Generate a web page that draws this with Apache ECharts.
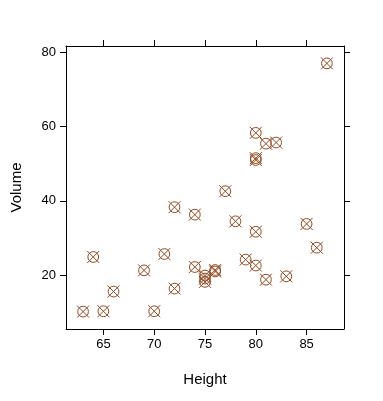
<!DOCTYPE html>
<html><head><meta charset="utf-8">
<script src="https://cdn.jsdelivr.net/npm/echarts@6/dist/echarts.min.js"></script>
<style>html,body{margin:0;padding:0;background:#fff}#c{width:383px;height:401px}</style>
</head><body><div id="c"></div>
<script>
const height = [70,65,63,72,81,83,66,75,80,75,79,76,76,69,75,74,85,86,71,64,78,80,74,72,77,81,82,80,80,80,87];
const volume = [10.3,10.3,10.2,16.4,18.8,19.7,15.6,18.2,22.6,19.9,24.2,21.0,21.4,21.3,19.1,22.2,33.8,27.4,25.7,24.9,34.5,31.7,36.3,38.3,42.6,55.4,55.7,58.3,51.5,51.0,77.0];
const xTicks = [65,70,75,80,85];
const yTicks = [20,40,60,80];

const xMin = 61.32, xMax = 88.68, yMin = 5.524, yMax = 81.676;
const font = 'Liberation Sans, Arial, sans-serif';
const marker = 'path://M0.8,5 A4.2,4.2 0 1,1 9.2,5 A4.2,4.2 0 1,1 0.8,5 Z M0.3,0.3 L9.7,9.7 M9.7,0.3 L0.3,9.7';

function axisCommon(min, max, ticks, pos, labels) {
  return {
    type: 'value', position: pos, min: min, max: max,
    splitLine: {show: false},
    axisLine: {show: true, onZero: false, lineStyle: {color: '#000', width: 1}},
    axisTick: {show: true, inside: false, length: 6, lineStyle: {color: '#000'}, customValues: ticks},
    axisLabel: {show: labels, color: '#000', fontFamily: font, fontSize: 13, customValues: ticks}
  };
}

const xb = axisCommon(xMin, xMax, xTicks, 'bottom', true);
xb.name = 'Height'; xb.nameLocation = 'middle'; xb.nameGap = 43;
xb.nameTextStyle = {color: '#000', fontFamily: font, fontSize: 15};
xb.axisLabel.margin = 9;
const xt = axisCommon(xMin, xMax, xTicks, 'top', false);
const yl = axisCommon(yMin, yMax, yTicks, 'left', true);
yl.name = 'Volume'; yl.nameLocation = 'middle'; yl.nameGap = 42;
yl.nameTextStyle = {color: '#000', fontFamily: font, fontSize: 15};
yl.axisLabel.margin = 10;
const yr = axisCommon(yMin, yMax, yTicks, 'right', false);

const chart = echarts.init(document.getElementById('c'), null, {renderer: 'canvas'});
chart.setOption({
  animation: false,
  backgroundColor: '#fff',
  grid: {left: 66, top: 46, right: 39, bottom: 72, containLabel: false},
  xAxis: [xb, xt],
  yAxis: [yl, yr],
  series: [{
    type: 'scatter', xAxisIndex: 0, yAxisIndex: 0,
    data: height.map((h, i) => [h, volume[i]]),
    symbol: marker, symbolSize: 12,
    itemStyle: {color: 'rgba(0,0,0,0)', borderColor: '#944a22', borderWidth: 1, opacity: 1},
    emphasis: {disabled: true}
  }]
});
</script></body></html>
